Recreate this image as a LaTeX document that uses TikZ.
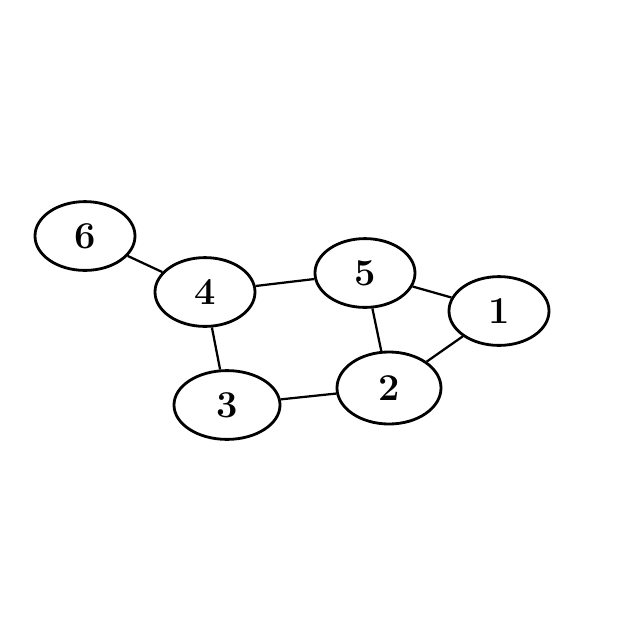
\documentclass[tikz,border=0pt]{standalone}
\usetikzlibrary{shapes.geometric}
\begin{document}
\begin{tikzpicture}[x=0.025cm,y=-0.025cm,
  vtx/.style={ellipse,draw,line width=2pt,minimum width=2.5cm,minimum height=1.72cm,inner sep=0pt,font=\fontsize{27}{30}\selectfont\bfseries},
  edge/.style={line width=1.6pt}]
\useasboundingbox (0,0) rectangle (640,640);
\node[vtx] (n6) at (85,236) {6};
\node[vtx] (n4) at (205,292) {4};
\node[vtx] (n5) at (365,273) {5};
\node[vtx] (n1) at (499,311) {1};
\node[vtx,minimum width=2.65cm] (n3) at (227,405) {3};
\node[vtx,minimum width=2.6cm,minimum height=1.8cm] (n2) at (389,388) {2};
\draw[edge] (n6) -- (n4);
\draw[edge] (n4) -- (n5);
\draw[edge] (n4) -- (n3);
\draw[edge] (n3) -- (n2);
\draw[edge] (n5) -- (n2);
\draw[edge] (n5) -- (n1);
\draw[edge] (n2) -- (n1);
\end{tikzpicture}
\end{document}
